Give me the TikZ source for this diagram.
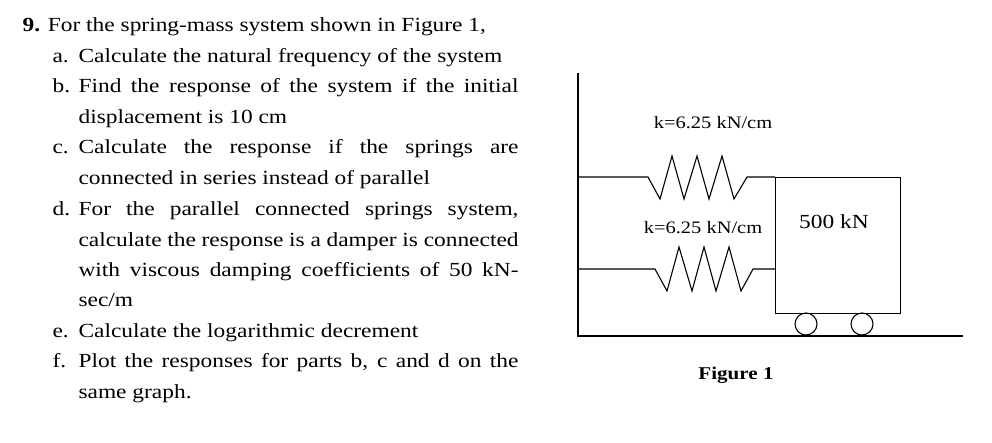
\documentclass[tikz,border=0pt]{standalone}
\usepackage{fontspec}
\setmainfont{Liberation Serif}[FakeStretch=1.17]
\begin{document}
\begin{tikzpicture}[x=1pt,y=-1pt,line width=1.1pt,
  txt/.style={anchor=base west,inner sep=0pt,font=\fontsize{20}{22}\selectfont},
  lbl/.style={inner sep=0pt,font=\fontsize{17.5}{19}\selectfont}]
\useasboundingbox (0,0) rectangle (992,442);
\node[txt] (l1) at (22,31) {\textbf{9.} For the spring-mass system shown in Figure 1,};
\node[txt] (l2) at (52,62) {a.};
\node[txt] (t2) at (78,62) {Calculate the natural frequency of the system};
\node[txt] (l3) at (52,92) {b.};
\node[txt] (t3) at (78,92) {\makebox[440pt][s]{Find the response of the system if the initial}};
\node[txt] (l4) at (78,123) {displacement is 10 cm};
\node[txt] (l5) at (52,153) {c.};
\node[txt] (t5) at (78,153) {\makebox[440pt][s]{Calculate the response if the springs are}};
\node[txt] (l6) at (78,184) {connected in series instead of parallel};
\node[txt] (l7) at (52,215) {d.};
\node[txt] (t7) at (78,215) {\makebox[440pt][s]{For the parallel connected springs system,}};
\node[txt] (l8) at (78,246) {\makebox[440pt][s]{calculate the response is a damper is connected}};
\node[txt] (l9) at (78,276) {\makebox[440pt][s]{with viscous damping coefficients of 50 kN-}};
\node[txt] (l10) at (78,306) {sec/m};
\node[txt] (l11) at (52,337) {e.};
\node[txt] (t11) at (78,337) {Calculate the logarithmic decrement};
\node[txt] (l12) at (52,367) {f.};
\node[txt] (t12) at (78,367) {\makebox[440pt][s]{Plot the responses for parts b, c and d on the}};
\node[txt] (l13) at (78,398) {same graph.};
% figure
\draw (578,73) -- (578,336) -- (963,336);
\node[draw,minimum width=125pt,minimum height=136pt,anchor=north west,inner sep=0pt] (m) at (775,177) {};
\node[inner sep=0pt,font=\fontsize{20}{22}\selectfont] (ml) at (834,222) {500 kN};
\draw (578,177) -- (648,177) -- (660,199) -- (672,156) -- (684,199) -- (697,156) -- (709,199) -- (722,156) -- (734,199) -- (747,177) -- (m.north west);
\draw (578,269) -- (655,269) -- (667,291) -- (679,247) -- (692,291) -- (704,247) -- (716,291) -- (729,247) -- (741,291) -- (753,269) -- (m.west |- 0,269);
\node[lbl] (k1) at (713,123) {k=6.25 kN/cm};
\node[lbl] (k2) at (703,228) {k=6.25 kN/cm};
\node[draw,circle,minimum size=22pt,inner sep=0pt] (w1) at (806,324) {};
\node[draw,circle,minimum size=22pt,inner sep=0pt] (w2) at (862,324) {};
\node[inner sep=0pt,font=\fontsize{18}{20}\selectfont\bfseries] (f) at (736,375) {Figure 1};
\end{tikzpicture}
\end{document}
